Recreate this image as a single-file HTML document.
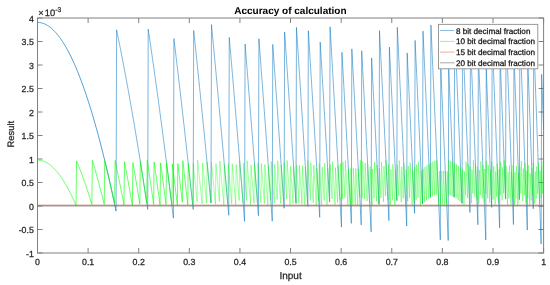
<!DOCTYPE html>
<html><head><meta charset="utf-8"><title>Accuracy of calculation</title>
<style>html,body{margin:0;padding:0;background:#fff;width:550px;height:285px;overflow:hidden}svg{display:block;text-rendering:geometricPrecision}</style>
</head><body><svg width="550" height="285" viewBox="0 0 550 285"><clipPath id="c"><rect x="37.5" y="18.0" width="506.1" height="235.0"/></clipPath><rect x="37.5" y="18.0" width="506.1" height="235.0" fill="none" stroke="#808080" stroke-width="1"/><path d="M37.50 253.0v-5M37.50 18.0v5M88.11 253.0v-5M88.11 18.0v5M138.72 253.0v-5M138.72 18.0v5M189.33 253.0v-5M189.33 18.0v5M239.94 253.0v-5M239.94 18.0v5M290.55 253.0v-5M290.55 18.0v5M341.16 253.0v-5M341.16 18.0v5M391.77 253.0v-5M391.77 18.0v5M442.38 253.0v-5M442.38 18.0v5M492.99 253.0v-5M492.99 18.0v5M543.60 253.0v-5M543.60 18.0v5M37.5 253.00h5M543.6 253.00h-5M37.5 229.50h5M543.6 229.50h-5M37.5 206.00h5M543.6 206.00h-5M37.5 182.50h5M543.6 182.50h-5M37.5 159.00h5M543.6 159.00h-5M37.5 135.50h5M543.6 135.50h-5M37.5 112.00h5M543.6 112.00h-5M37.5 88.50h5M543.6 88.50h-5M37.5 65.00h5M543.6 65.00h-5M37.5 41.50h5M543.6 41.50h-5M37.5 18.00h5M543.6 18.00h-5" stroke="#808080" stroke-width="1" fill="none"/><g clip-path="url(#c)"><polyline fill="none" stroke="#0072BD" stroke-width="0.7" points="37.50,22.41 37.99,22.41 38.49,22.44 38.98,22.47 39.48,22.53 39.97,22.59 40.47,22.68 40.96,22.77 41.45,22.88 41.95,23.01 42.44,23.15 42.94,23.31 43.43,23.48 43.93,23.67 44.42,23.87 44.91,24.09 45.41,24.32 45.90,24.57 46.40,24.83 46.89,25.10 47.38,25.39 47.88,25.70 48.37,26.02 48.87,26.36 49.36,26.71 49.86,27.08 50.35,27.46 50.84,27.85 51.34,28.26 51.83,28.69 52.33,29.13 52.82,29.59 53.32,30.06 53.81,30.54 54.30,31.04 54.80,31.56 55.29,32.09 55.79,32.63 56.28,33.19 56.78,33.77 57.27,34.36 57.76,34.96 58.26,35.58 58.75,36.22 59.25,36.87 59.74,37.53 60.23,38.21 60.73,38.91 61.22,39.62 61.72,40.34 62.21,41.08 62.71,41.83 63.20,42.60 63.69,43.39 64.19,44.19 64.68,45.00 65.18,45.83 65.67,46.67 66.17,47.53 66.66,48.41 67.15,49.30 67.65,50.20 68.14,51.12 68.64,52.05 69.13,53.00 69.63,53.96 70.12,54.94 70.61,55.93 71.11,56.94 71.60,57.96 72.10,59.00 72.59,60.06 73.09,61.12 73.58,62.21 74.07,63.30 74.57,64.42 75.06,65.54 75.56,66.69 76.05,67.84 76.54,69.02 77.04,70.20 77.53,71.40 78.03,72.62 78.52,73.85 79.02,75.10 79.51,76.36 80.00,77.64 80.50,78.93 80.99,80.24 81.49,81.56 81.98,82.89 82.48,84.24 82.97,85.61 83.46,86.99 83.96,88.39 84.45,89.80 84.95,91.22 85.44,92.66 85.94,94.12 86.43,95.59 86.92,97.08 87.42,98.58 87.91,100.09 88.41,101.62 88.90,103.16 89.40,104.72 89.89,106.30 90.38,107.89 90.88,109.49 91.37,111.11 91.87,112.75 92.36,114.40 92.85,116.06 93.35,117.74 93.84,119.43 94.34,121.14 94.83,122.86 95.33,124.60 95.82,126.36 96.31,128.12 96.81,129.91 97.30,131.70 97.80,133.52 98.29,135.35 98.79,137.19 99.28,139.05 99.77,140.92 100.27,142.80 100.76,144.71 101.26,146.62 101.75,148.56 102.25,150.50 102.74,152.46 103.23,154.44 103.73,156.43 104.22,158.44 104.72,160.46 105.21,162.49 105.70,164.54 106.20,166.61 106.69,168.69 107.19,170.79 107.68,172.90 108.18,175.02 108.67,177.16 109.16,179.32 109.66,181.48 110.15,183.67 110.65,185.87 111.14,188.08 111.64,190.31 112.13,192.55 112.62,194.81 113.12,197.09 113.61,199.38 114.11,201.68 114.60,204.00 115.10,206.33 115.59,208.68 116.08,211.04"/><polyline fill="none" stroke="#0072BD" stroke-width="0.52" points="116.08,211.04 116.58,29.82 117.07,32.21 117.57,34.62 118.06,37.04 118.56,39.48 119.05,41.93 119.54,44.40 120.04,46.88 120.53,49.37 121.03,51.89 121.52,54.41 122.01,56.95 122.51,59.51 123.00,62.08 123.50,64.66 123.99,67.26 124.49,69.88 124.98,72.50 125.47,75.15 125.97,77.81 126.46,80.48 126.96,83.17 127.45,85.87 127.95,88.59 128.44,91.32 128.93,94.07 129.43,96.83 129.92,99.61 130.42,102.40 130.91,105.21 131.41,108.03 131.90,110.87 132.39,113.72 132.89,116.59 133.38,119.47 133.88,122.36 134.37,125.27 134.86,128.20 135.36,131.14 135.85,134.09 136.35,137.06 136.84,140.05 137.34,143.04 137.83,146.06 138.32,149.09 138.82,152.13 139.31,155.19 139.81,158.26 140.30,161.35 140.80,164.45 141.29,167.57 141.78,170.70 142.28,173.85 142.77,177.01 143.27,180.18 143.76,183.37 144.26,186.58 144.75,189.80 145.24,193.03 145.74,196.28 146.23,199.55 146.73,202.83 147.22,206.12 147.72,209.43 148.21,29.16 148.70,32.50 149.20,35.85 149.69,39.22 150.19,42.60 150.68,46.00 151.17,49.41 151.67,52.84 152.16,56.28 152.66,59.73 153.15,63.20 153.65,66.69 154.14,70.19 154.63,73.70 155.13,77.23 155.62,80.78 156.12,84.34 156.61,87.91 157.11,91.50 157.60,95.10 158.09,98.72 158.59,102.35 159.08,106.00 159.58,109.66 160.07,113.34 160.57,117.03 161.06,120.73 161.55,124.45 162.05,128.19 162.54,131.94 163.04,135.70 163.53,139.48 164.03,143.27 164.52,147.08 165.01,150.91 165.51,154.74 166.00,158.60 166.50,162.46 166.99,166.34 167.48,170.24 167.98,174.15 168.47,178.08 168.97,182.02 169.46,185.97 169.96,189.94 170.45,193.93 170.94,197.92 171.44,201.94 171.93,205.97 172.43,210.01 172.92,214.07 173.42,218.14 173.91,38.63 174.40,42.73 174.90,46.85 175.39,50.98 175.89,55.12 176.38,59.28 176.88,63.46 177.37,67.65 177.86,71.85 178.36,76.07 178.85,80.30 179.35,84.55 179.84,88.81 180.33,93.08 180.83,97.38 181.32,101.68 181.82,106.00 182.31,110.34 182.81,114.68 183.30,119.05 183.79,123.43 184.29,127.82 184.78,132.23 185.28,136.65 185.77,141.09 186.27,145.54 186.76,150.00 187.25,154.48 187.75,158.98 188.24,163.49 188.74,168.01 189.23,172.55 189.73,177.10 190.22,181.67 190.71,186.25 191.21,190.85 191.70,195.46 192.20,200.09 192.69,204.73 193.19,209.38 193.68,30.46 194.17,35.14 194.67,39.84 195.16,44.55 195.66,49.28 196.15,54.02 196.64,58.78 197.14,63.55 197.63,68.33 198.13,73.13 198.62,77.95 199.12,82.78 199.61,87.62 200.10,92.48 200.60,97.35 201.09,102.24 201.59,107.14 202.08,112.05 202.58,116.98 203.07,121.93 203.56,126.89 204.06,131.86 204.55,136.85 205.05,141.85 205.54,146.87 206.04,151.90 206.53,156.94 207.02,162.00 207.52,167.08 208.01,172.17 208.51,177.27 209.00,182.39 209.49,187.52 209.99,192.67 210.48,197.83 210.98,203.01 211.47,24.60 211.97,29.81 212.46,35.03 212.95,40.26 213.45,45.51 213.94,50.77 214.44,56.05 214.93,61.34 215.43,66.64 215.92,71.96 216.41,77.30 216.91,82.64 217.40,88.01 217.90,93.38 218.39,98.78 218.89,104.18 219.38,109.60 219.87,115.04 220.37,120.49 220.86,125.95 221.36,131.43 221.85,136.92 222.35,142.43 222.84,147.95 223.33,153.48 223.83,159.03 224.32,164.60 224.82,170.17 225.31,175.77 225.80,181.37 226.30,187.00 226.79,192.63 227.29,198.28 227.78,203.94 228.28,209.62 228.77,215.32 229.26,37.43 229.76,43.15 230.25,48.89 230.75,54.64 231.24,60.40 231.74,66.18 232.23,71.97 232.72,77.78 233.22,83.60 233.71,89.44 234.21,95.29 234.70,101.15 235.20,107.03 235.69,112.92 236.18,118.83 236.68,124.75 237.17,130.69 237.67,136.64 238.16,142.60 238.65,148.58 239.15,154.57 239.64,160.58 240.14,166.60 240.63,172.63 241.13,178.68 241.62,184.75 242.11,190.82 242.61,196.92 243.10,203.02 243.60,209.14 244.09,215.28 244.59,221.43 245.08,44.00 245.57,50.17 246.07,56.37 246.56,62.57 247.06,68.79 247.55,75.03 248.05,81.27 248.54,87.54 249.03,93.81 249.53,100.10 250.02,106.41 250.52,112.73 251.01,119.06 251.51,125.41 252.00,131.77 252.49,138.15 252.99,144.54 253.48,150.94 253.98,157.36 254.47,163.79 254.96,170.24 255.46,176.70 255.95,183.17 256.45,189.66 256.94,196.16 257.44,202.68 257.93,209.21 258.42,215.76 258.92,38.72 259.41,45.29 259.91,51.88 260.40,58.48 260.90,65.10 261.39,71.73 261.88,78.37 262.38,85.03 262.87,91.70 263.37,98.39 263.86,105.09 264.36,111.80 264.85,118.53 265.34,125.27 265.84,132.03 266.33,138.80 266.83,145.58 267.32,152.38 267.82,159.19 268.31,166.02 268.80,172.86 269.30,179.71 269.79,186.58 270.29,193.47 270.78,200.36 271.27,207.27 271.77,214.20 272.26,221.13 272.76,44.49 273.25,51.46 273.75,58.44 274.24,65.43 274.73,72.44 275.23,79.47 275.72,86.50 276.22,93.55 276.71,100.62 277.21,107.69 277.70,114.79 278.19,121.89 278.69,129.01 279.18,136.15 279.68,143.29 280.17,150.46 280.67,157.63 281.16,164.82 281.65,172.02 282.15,179.24 282.64,186.47 283.14,193.72 283.63,200.98 284.12,208.25 284.62,31.94 285.11,39.24 285.61,46.56 286.10,53.89 286.60,61.23 287.09,68.59 287.58,75.96 288.08,83.34 288.57,90.74 289.07,98.15 289.56,105.58 290.06,113.01 290.55,120.47 291.04,127.94 291.54,135.42 292.03,142.91 292.53,150.42 293.02,157.94 293.52,165.48 294.01,173.03 294.50,180.59 295.00,188.17 295.49,195.76 295.99,203.37 296.48,27.39 296.98,35.02 297.47,42.67 297.96,50.33 298.46,58.01 298.95,65.69 299.45,73.40 299.94,81.11 300.43,88.84 300.93,96.58 301.42,104.34 301.92,112.11 302.41,119.89 302.91,127.69 303.40,135.50 303.89,143.33 304.39,151.17 304.88,159.02 305.38,166.89 305.87,174.77 306.37,182.66 306.86,190.57 307.35,198.49 307.85,206.43 308.34,30.78 308.84,38.74 309.33,46.72 309.83,54.71 310.32,62.71 310.81,70.73 311.31,78.76 311.80,86.80 312.30,94.86 312.79,102.93 313.28,111.02 313.78,119.12 314.27,127.23 314.77,135.36 315.26,143.50 315.76,151.65 316.25,159.82 316.74,168.00 317.24,176.19 317.73,184.40 318.23,192.62 318.72,200.86 319.22,209.10 319.71,217.37 320.20,42.05 320.70,50.34 321.19,58.64 321.69,66.96 322.18,75.29 322.68,83.63 323.17,91.99 323.66,100.36 324.16,108.74 324.65,117.14 325.15,125.55 325.64,133.98 326.14,142.41 326.63,150.86 327.12,159.33 327.62,167.81 328.11,176.30 328.61,184.81 329.10,193.33 329.59,201.86 330.09,26.81 330.58,35.37 331.08,43.94 331.57,52.53 332.07,61.13 332.56,69.74 333.05,78.37 333.55,87.01 334.04,95.66 334.54,104.33 335.03,113.01 335.53,121.71 336.02,130.41 336.51,139.14 337.01,147.87 337.50,156.62 338.00,165.38 338.49,174.15 338.99,182.94 339.48,191.74 339.97,200.56 340.47,209.38 340.96,218.23 341.46,227.08 341.95,52.36 342.45,61.24 342.94,70.13 343.43,79.04 343.93,87.96 344.42,96.90 344.92,105.84 345.41,114.81 345.90,123.78 346.40,132.77 346.89,141.77 347.39,150.79 347.88,159.81 348.38,168.85 348.87,177.91 349.36,186.98 349.86,196.06 350.35,205.15 350.85,214.26 351.34,223.38 351.84,48.92 352.33,58.07 352.82,67.23 353.32,76.40 353.81,85.59 354.31,94.79 354.80,104.01 355.30,113.23 355.79,122.47 356.28,131.73 356.78,140.99 357.27,150.27 357.77,159.56 358.26,168.87 358.75,178.19 359.25,187.52 359.74,196.87 360.24,206.23 360.73,215.60 361.23,224.98 361.72,50.79 362.21,60.20 362.71,69.62 363.20,79.06 363.70,88.51 364.19,97.98 364.69,107.45 365.18,116.94 365.67,126.45 366.17,135.96 366.66,145.49 367.16,155.04 367.65,164.59 368.15,174.16 368.64,183.74 369.13,193.34 369.63,202.95 370.12,212.57 370.62,222.20 371.11,231.85 371.61,57.91 372.10,67.59 372.59,77.27 373.09,86.97 373.58,96.68 374.08,106.41 374.57,116.15 375.06,125.90 375.56,135.66 376.05,145.44 376.55,155.23 377.04,165.03 377.54,174.85 378.03,184.68 378.52,194.52 379.02,204.38 379.51,30.65 380.01,40.53 380.50,50.43 381.00,60.33 381.49,70.25 381.98,80.19 382.48,90.13 382.97,100.09 383.47,110.06 383.96,120.05 384.46,130.04 384.95,140.05 385.44,150.08 385.94,160.11 386.43,170.16 386.93,180.22 387.42,190.30 387.91,200.39 388.41,210.49 388.90,220.60 389.40,47.13 389.89,57.27 390.39,67.42 390.88,77.59 391.37,87.76 391.87,97.95 392.36,108.16 392.86,118.37 393.35,128.60 393.85,138.84 394.34,149.10 394.83,159.36 395.33,169.64 395.82,179.94 396.32,190.24 396.81,200.56 397.31,27.30 397.80,37.64 398.29,48.00 398.79,58.36 399.28,68.75 399.78,79.14 400.27,89.55 400.77,99.97 401.26,110.40 401.75,120.84 402.25,131.30 402.74,141.77 403.24,152.26 403.73,162.75 404.22,173.26 404.72,183.78 405.21,194.32 405.71,204.86 406.20,215.42 406.70,225.99 407.19,52.98 407.68,63.58 408.18,74.19 408.67,84.81 409.17,95.45 409.66,106.09 410.16,116.75 410.65,127.43 411.14,138.11 411.64,148.81 412.13,159.52 412.63,170.24 413.12,180.98 413.62,191.73 414.11,202.49 414.60,213.26 415.10,40.45 415.59,51.25 416.09,62.06 416.58,72.89 417.08,83.72 417.57,94.57 418.06,105.43 418.56,116.30 419.05,127.19 419.55,138.09 420.04,149.00 420.53,159.92 421.03,170.86 421.52,181.80 422.02,192.77 422.51,203.74 423.01,31.13 423.50,42.13 423.99,53.14 424.49,64.16 424.98,75.20 425.48,86.24 425.97,97.30 426.47,108.37 426.96,119.46 427.45,130.56 427.95,141.67 428.44,152.79 428.94,163.92 429.43,175.07 429.93,186.23 430.42,197.40 430.91,24.99 431.41,36.18 431.90,47.39 432.40,58.61 432.89,69.85 433.38,81.09 433.88,92.35 434.37,103.62 434.87,114.90 435.36,126.19 435.86,137.50 436.35,148.82 436.84,160.15 437.34,171.49 437.83,182.85 438.33,194.22 438.82,205.60 439.32,216.99 439.81,228.39 440.30,239.81 440.80,67.64 441.29,79.09 441.79,90.54 442.28,102.00 442.78,113.48 443.27,124.97 443.76,136.47 444.26,147.99 444.75,159.51 445.25,171.05 445.74,182.60 446.24,194.17 446.73,205.74 447.22,217.33 447.72,228.93 448.21,240.54 448.71,68.57 449.20,80.20 449.69,91.85 450.19,103.51 450.68,115.18 451.18,126.86 451.67,138.56 452.17,150.27 452.66,161.99 453.15,173.72 453.65,185.46 454.14,197.22 454.64,25.39 455.13,37.17 455.63,48.97 456.12,60.77 456.61,72.59 457.11,84.41 457.60,96.25 458.10,108.11 458.59,119.97 459.09,131.85 459.58,143.73 460.07,155.63 460.57,167.54 461.06,179.47 461.56,191.40 462.05,203.35 462.54,31.72 463.04,43.69 463.53,55.67 464.03,67.67 464.52,79.67 465.02,91.69 465.51,103.72 466.00,115.77 466.50,127.82 466.99,139.89 467.49,151.97 467.98,164.06 468.48,176.16 468.97,188.27 469.46,200.40 469.96,212.53 470.45,41.09 470.95,53.25 471.44,65.42 471.94,77.61 472.43,89.80 472.92,102.01 473.42,114.23 473.91,126.46 474.41,138.71 474.90,150.96 475.40,163.23 475.89,175.51 476.38,187.80 476.88,200.10 477.37,212.41 477.87,224.74 478.36,53.48 478.85,65.83 479.35,78.19 479.84,90.57 480.34,102.95 480.83,115.34 481.33,127.75 481.82,140.17 482.31,152.60 482.81,165.04 483.30,177.50 483.80,189.96 484.29,202.44 484.79,214.93 485.28,227.43 485.77,239.94 486.27,68.87 486.76,81.40 487.26,93.95 487.75,106.51 488.25,119.08 488.74,131.66 489.23,144.25 489.73,156.86 490.22,169.47 490.72,182.10 491.21,194.74 491.70,207.39 492.20,36.46 492.69,49.13 493.19,61.82 493.68,74.51 494.18,87.22 494.67,99.94 495.16,112.67 495.66,125.41 496.15,138.17 496.65,150.93 497.14,163.71 497.64,176.50 498.13,189.29 498.62,202.11 499.12,214.93 499.61,227.76 500.11,57.01 500.60,69.87 501.10,82.74 501.59,95.61 502.08,108.51 502.58,121.41 503.07,134.32 503.57,147.24 504.06,160.18 504.56,173.13 505.05,186.09 505.54,199.05 506.04,28.44 506.53,41.43 507.03,54.44 507.52,67.45 508.01,80.48 508.51,93.52 509.00,106.56 509.50,119.62 509.99,132.70 510.49,145.78 510.98,158.87 511.47,171.98 511.97,185.09 512.46,198.22 512.96,211.36 513.45,224.51 513.95,54.07 514.44,67.25 514.93,80.43 515.43,93.62 515.92,106.83 516.42,120.05 516.91,133.27 517.41,146.51 517.90,159.76 518.39,173.02 518.89,186.29 519.38,199.58 519.88,29.28 520.37,42.58 520.87,55.90 521.36,69.23 521.85,82.57 522.35,95.92 522.84,109.28 523.34,122.65 523.83,136.03 524.32,149.43 524.82,162.83 525.31,176.25 525.81,189.67 526.30,203.11 526.80,216.56 527.29,230.02 527.78,59.90 528.28,73.38 528.77,86.87 529.27,100.37 529.76,113.89 530.26,127.41 530.75,140.95 531.24,154.50 531.74,168.06 532.23,181.63 532.73,195.21 533.22,208.80 533.72,38.80 534.21,52.42 534.70,66.04 535.20,79.67 535.69,93.32 536.19,106.98 536.68,120.64 537.17,134.32 537.67,148.01 538.16,161.71 538.66,175.42 539.15,189.14 539.65,202.87 540.14,216.61 540.63,230.37 541.13,244.13 541.62,74.31 542.12,88.10 542.61,101.90 543.11,115.70 543.60,129.52"/><polyline fill="none" stroke="#00FF00" stroke-width="0.6" points="37.50,160.10 37.99,160.11 38.49,160.13 38.98,160.17 39.48,160.22 39.97,160.29 40.47,160.37 40.96,160.47 41.45,160.58 41.95,160.71 42.44,160.85 42.94,161.01 43.43,161.18 43.93,161.36 44.42,161.57 44.91,161.78 45.41,162.01 45.90,162.26 46.40,162.52 46.89,162.80 47.38,163.09 47.88,163.40 48.37,163.72 48.87,164.05 49.36,164.40 49.86,164.77 50.35,165.15 50.84,165.55 51.34,165.96 51.83,166.38 52.33,166.82 52.82,167.28 53.32,167.75 53.81,168.24 54.30,168.74 54.80,169.25 55.29,169.78 55.79,170.33 56.28,170.89 56.78,171.46 57.27,172.05 57.76,172.66 58.26,173.28 58.75,173.91 59.25,174.56 59.74,175.23 60.23,175.91 60.73,176.60 61.22,177.31 61.72,178.04 62.21,178.78 62.71,179.53 63.20,180.30 63.69,181.08 64.19,181.88 64.68,182.70 65.18,183.53 65.67,184.37 66.17,185.23 66.66,186.10 67.15,186.99 67.65,187.89 68.14,188.81 68.64,189.75 69.13,190.69 69.63,191.66 70.12,192.64 70.61,193.63 71.11,194.64 71.60,195.66 72.10,196.70 72.59,197.75 73.09,198.82 73.58,199.90 74.07,201.00 74.57,202.11 75.06,203.24 75.56,204.38 76.05,205.54 76.54,160.81 77.04,162.00 77.53,163.20 78.03,164.42 78.52,165.65 79.02,166.90 79.51,168.16 80.00,169.44 80.50,170.73 80.99,172.03 81.49,173.35 81.98,174.69 82.48,176.04 82.97,177.41 83.46,178.79 83.96,180.18 84.45,181.59 84.95,183.02 85.44,184.46 85.94,185.92 86.43,187.39 86.92,188.87 87.42,190.37 87.91,191.89 88.41,193.42 88.90,194.96 89.40,196.52 89.89,198.10 90.38,199.69 90.88,201.29 91.37,202.91 91.87,204.54 92.36,160.29 92.85,161.96 93.35,163.64 93.84,165.33 94.34,167.04 94.83,168.76 95.33,170.50 95.82,172.25 96.31,174.02 96.81,175.81 97.30,177.60 97.80,179.42 98.29,181.24 98.79,183.09 99.28,184.94 99.77,186.82 100.27,188.70 100.76,190.60 101.26,192.52 101.75,194.45 102.25,196.40 102.74,198.36 103.23,200.34 103.73,202.33 104.22,204.34 104.72,160.46 105.21,162.49 105.70,164.54 106.20,166.61 106.69,168.69 107.19,170.79 107.68,172.90 108.18,175.02 108.67,177.16 109.16,179.32 109.66,181.48 110.15,183.67 110.65,185.87 111.14,188.08 111.64,190.31 112.13,192.55 112.62,194.81 113.12,197.09 113.61,199.38 114.11,201.68 114.60,204.00 115.10,160.43 115.59,162.78 116.08,165.14 116.58,167.52 117.07,169.91 117.57,172.32 118.06,174.74 118.56,177.18 119.05,179.63 119.54,182.09 120.04,184.57 120.53,187.07 121.03,189.58 121.52,192.11 122.01,194.65 122.51,197.20 123.00,199.77 123.50,202.36 123.99,204.96 124.49,161.67 124.98,164.30 125.47,166.95 125.97,169.60 126.46,172.28 126.96,174.97 127.45,177.67 127.95,180.39 128.44,183.12 128.93,185.87 129.43,188.63 129.92,191.41 130.42,194.20 130.91,197.01 131.41,199.83 131.90,202.67 132.39,205.52 132.89,162.48 133.38,165.36 133.88,168.26 134.37,171.17 134.86,174.10 135.36,177.04 135.85,179.99 136.35,182.96 136.84,185.94 137.34,188.94 137.83,191.96 138.32,194.98 138.82,198.03 139.31,201.09 139.81,204.16 140.30,161.35 140.80,164.45 141.29,167.57 141.78,170.70 142.28,173.85 142.77,177.01 143.27,180.18 143.76,183.37 144.26,186.58 144.75,189.80 145.24,193.03 145.74,196.28 146.23,199.55 146.73,202.83 147.22,160.22 147.72,163.53 148.21,166.86 148.70,170.19 149.20,173.55 149.69,176.91 150.19,180.30 150.68,183.69 151.17,187.11 151.67,190.53 152.16,193.97 152.66,197.43 153.15,200.90 153.65,204.38 154.14,161.99 154.63,165.50 155.13,169.03 155.62,172.57 156.12,176.13 156.61,179.71 157.11,183.29 157.60,186.90 158.09,190.52 158.59,194.15 159.08,197.79 159.58,201.46 160.07,205.13 160.57,162.93 161.06,166.63 161.55,170.35 162.05,174.09 162.54,177.84 163.04,181.60 163.53,185.38 164.03,189.17 164.52,192.98 165.01,196.80 165.51,200.64 166.00,204.49 166.50,162.46 166.99,166.34 167.48,170.24 167.98,174.15 168.47,178.08 168.97,182.02 169.46,185.97 169.96,189.94 170.45,193.93 170.94,197.92 171.44,201.94 171.93,205.97 172.43,164.11 172.92,168.17 173.42,172.24 173.91,176.33 174.40,180.43 174.90,184.54 175.39,188.67 175.89,192.82 176.38,196.98 176.88,201.15 177.37,205.34 177.86,163.65 178.36,167.86 178.85,172.10 179.35,176.34 179.84,180.60 180.33,184.88 180.83,189.17 181.32,193.48 181.82,197.80 182.31,202.13 182.81,160.58 183.30,164.95 183.79,169.33 184.29,173.72 184.78,178.13 185.28,182.55 185.77,186.98 186.27,191.44 186.76,195.90 187.25,200.38 187.75,204.88 188.24,163.49 188.74,168.01 189.23,172.55"/><polyline fill="none" stroke="#00FF00" stroke-width="0.37" points="189.23,172.55 189.73,177.10 190.22,181.67 190.71,186.25 191.21,190.85 191.70,195.46 192.20,200.09 192.69,204.73 193.19,163.48 193.68,168.15 194.17,172.84 194.67,177.53 195.16,182.25 195.66,186.97 196.15,191.72 196.64,196.47 197.14,201.24 197.63,160.13 198.13,164.93 198.62,169.74 199.12,174.57 199.61,179.42 200.10,184.27 200.60,189.15 201.09,194.03 201.59,198.93 202.08,203.85 202.58,162.88 203.07,167.83 203.56,172.78 204.06,177.76 204.55,182.75 205.05,187.75 205.54,192.77 206.04,197.80 206.53,202.84 207.02,162.00 207.52,167.08 208.01,172.17 208.51,177.27 209.00,182.39 209.49,187.52 209.99,192.67 210.48,197.83 210.98,203.01 211.47,162.30 211.97,167.50 212.46,172.72 212.95,177.95 213.45,183.20 213.94,188.46 214.44,193.74 214.93,199.03 215.43,204.34 215.92,163.76 216.41,169.09 216.91,174.44 217.40,179.80 217.90,185.18 218.39,190.57 218.89,195.98 219.38,201.40 219.87,160.94 220.37,166.38 220.86,171.85 221.36,177.33 221.85,182.82 222.35,188.33 222.84,193.85 223.33,199.38 223.83,204.93 224.32,164.60 224.82,170.17 225.31,175.77 225.80,181.37 226.30,187.00 226.79,192.63 227.29,198.28 227.78,203.94 228.28,163.72 228.77,169.42 229.26,175.12 229.76,180.85 230.25,186.58 230.75,192.33 231.24,198.10 231.74,203.87 232.23,163.77 232.72,169.58 233.22,175.40 233.71,181.23 234.21,187.08 234.70,192.95 235.20,198.83 235.69,204.72 236.18,164.73 236.68,170.65 237.17,176.58 237.67,182.53 238.16,188.50 238.65,194.48 239.15,200.47 239.64,160.58 240.14,166.60 240.63,172.63 241.13,178.68 241.62,184.75 242.11,190.82 242.61,196.92 243.10,203.02 243.60,163.25 244.09,169.38 244.59,175.53 245.08,181.69 245.57,187.87 246.07,194.06 246.56,200.27 247.06,160.59 247.55,166.82 248.05,173.07 248.54,179.33 249.03,185.61 249.53,191.90 250.02,198.21 250.52,204.52 251.01,164.96 251.51,171.31 252.00,177.67 252.49,184.04 252.99,190.43 253.48,196.84 253.98,203.26 254.47,163.79 254.96,170.24 255.46,176.70 255.95,183.17 256.45,189.66 256.94,196.16 257.44,202.68 257.93,163.31 258.42,169.86 258.92,176.42 259.41,182.99 259.91,189.58 260.40,196.18 260.90,202.79 261.39,163.53 261.88,170.17 262.38,176.83 262.87,183.50 263.37,190.18 263.86,196.88 264.36,203.60 264.85,164.43 265.34,171.17 265.84,177.93 266.33,184.70 266.83,191.48 267.32,198.28 267.82,205.09 268.31,166.02 268.80,172.86 269.30,179.71 269.79,186.58 270.29,193.47 270.78,200.36 271.27,161.37 271.77,168.30 272.26,175.24 272.76,182.19 273.25,189.16 273.75,196.14 274.24,203.13 274.73,164.24 275.23,171.26 275.72,178.30 276.22,185.35 276.71,192.41 277.21,199.49 277.70,160.68 278.19,167.79 278.69,174.91 279.18,182.04 279.68,189.19 280.17,196.35 280.67,203.53 281.16,164.82 281.65,172.02 282.15,179.24 282.64,186.47 283.14,193.72 283.63,200.98 284.12,162.35 284.62,169.64 285.11,176.94 285.61,184.25 286.10,191.58 286.60,198.93 287.09,160.38 287.58,167.75 288.08,175.14 288.57,182.53 289.07,189.95 289.56,197.37 290.06,204.81 290.55,166.37 291.04,173.83 291.54,181.31 292.03,188.81 292.53,196.32 293.02,203.84 293.52,165.48 294.01,173.03 294.50,180.59 295.00,188.17 295.49,195.76 295.99,203.37 296.48,165.09 296.98,172.72 297.47,180.37 297.96,188.03 298.46,195.70 298.95,203.39 299.45,165.19 299.94,172.91 300.43,180.64 300.93,188.38 301.42,196.14 301.92,203.91 302.41,165.79 302.91,173.59 303.40,181.40 303.89,189.23 304.39,197.07 304.88,204.92 305.38,166.89 305.87,174.77 306.37,182.66 306.86,190.57 307.35,198.49 307.85,160.53 308.34,168.48 308.84,176.44 309.33,184.41 309.83,192.40 310.32,200.41 310.81,162.53 311.31,170.56 311.80,178.60 312.30,186.66 312.79,194.73 313.28,202.82 313.78,165.02 314.27,173.13 314.77,181.25 315.26,189.39 315.76,197.55 316.25,205.71 316.74,168.00 317.24,176.19 317.73,184.40 318.23,192.62 318.72,200.86 319.22,163.21 319.71,171.47 320.20,179.74 320.70,188.03 321.19,196.34 321.69,204.65 322.18,167.08 322.68,175.43 323.17,183.78 323.66,192.15 324.16,200.54 324.65,163.04 325.15,171.45 325.64,179.87 326.14,188.31 326.63,196.76 327.12,205.23 327.62,167.81 328.11,176.30 328.61,184.81 329.10,193.33 329.59,201.86 330.09,164.51 330.58,173.07 331.08,181.64 331.57,190.23 332.07,198.83 332.56,161.54 333.05,170.17 333.55,178.81 334.04,187.46 334.54,196.13 335.03,204.81 335.53,167.61 336.02,176.31 336.51,185.03 337.01,193.77 337.50,202.52 338.00,165.38 338.49,174.15 338.99,182.94 339.48,191.74 339.97,200.56 340.47,163.49 340.96,172.33 341.46,181.18 341.95,190.05 342.45,198.93 342.94,161.93 343.43,170.84 343.93,179.76 344.42,188.69 344.92,197.64 345.41,160.70 345.90,169.68 346.40,178.67 346.89,187.67 347.39,196.68 347.88,205.71 348.38,168.85 348.87,177.91 349.36,186.98 349.86,196.06 350.35,205.15 350.85,168.36 351.34,177.48 351.84,186.62 352.33,195.76 352.82,204.93 353.32,168.20 353.81,177.39 354.31,186.59 354.80,195.80 355.30,205.03 355.79,168.37 356.28,177.62 356.78,186.89 357.27,196.17 357.77,205.46 358.26,168.87 358.75,178.19 359.25,187.52 359.74,196.87 360.24,160.33 360.73,169.70 361.23,179.09 361.72,188.48 362.21,197.90 362.71,161.42 363.20,170.86 363.70,180.31 364.19,189.77 364.69,199.25 365.18,162.84 365.67,172.35 366.17,181.86 366.66,191.39 367.16,200.93 367.65,164.59 368.15,174.16 368.64,183.74 369.13,193.34 369.63,202.95 370.12,166.67 370.62,176.30 371.11,185.95 371.61,195.61 372.10,205.28 372.59,169.07 373.09,178.77 373.58,188.48 374.08,198.21 374.57,162.05 375.06,171.80 375.56,181.56 376.05,191.34 376.55,201.13 377.04,165.03 377.54,174.85 378.03,184.68 378.52,194.52 379.02,204.38 379.51,168.35 380.01,178.23 380.50,188.12 381.00,198.03 381.49,162.05 381.98,171.98 382.48,181.93 382.97,191.89 383.47,201.86 383.96,165.95 384.46,175.94 384.95,185.95 385.44,195.98 385.94,160.11 386.43,170.16 386.93,180.22 387.42,190.30 387.91,200.39 388.41,164.59 388.90,174.70 389.40,184.83 389.89,194.97 390.39,205.12 390.88,169.38 391.37,179.56 391.87,189.75 392.36,199.95 392.86,164.27 393.35,174.50 393.85,184.74 394.34,195.00 394.83,205.26 395.33,169.64 395.82,179.94 396.32,190.24 396.81,200.56 397.31,164.99 397.80,175.33 398.29,185.69 398.79,196.06 399.28,160.54 399.78,170.94 400.27,181.34 400.77,191.76 401.26,202.20 401.75,166.74 402.25,177.20 402.74,187.67 403.24,198.15 403.73,162.75 404.22,173.26 404.72,183.78 405.21,194.32 405.71,204.86 406.20,169.52 406.70,180.09 407.19,190.68 407.68,201.28 408.18,165.99 408.67,176.61 409.17,187.24 409.66,197.89 410.16,162.65 410.65,173.33 411.14,184.01 411.64,194.71 412.13,205.42 412.63,170.24 413.12,180.98 413.62,191.73 414.11,202.49 414.60,167.36 415.10,178.15 415.59,188.95 416.09,199.76 416.58,164.68 417.08,175.52 417.57,186.37 418.06,197.23 418.56,162.20 419.05,173.09 419.55,183.99 420.04,194.90 420.53,205.82 421.03,170.86 421.52,181.80 422.02,192.77 422.51,203.74 423.01,168.82 423.50,179.82 423.99,190.83 424.49,201.86 424.98,166.99 425.48,178.04 425.97,189.10 426.47,200.17 426.96,165.36 427.45,176.45 427.95,187.56 428.44,198.69 428.94,163.92 429.43,175.07 429.93,186.23 430.42,197.40 430.91,162.68 431.41,173.88 431.90,185.09 432.40,196.31 432.89,161.64 433.38,172.89 433.88,184.14 434.37,195.41 434.87,160.80 435.36,172.09 435.86,183.40 436.35,194.72 436.84,160.15 437.34,171.49 437.83,182.85 438.33,194.22 438.82,205.60 439.32,171.09 439.81,182.49 440.30,193.91 440.80,205.34 441.29,170.88 441.79,182.34 442.28,193.80 442.78,205.28 443.27,170.87 443.76,182.37 444.26,193.89 444.75,205.41 445.25,171.05 445.74,182.60 446.24,194.17 446.73,205.74 447.22,171.43 447.72,183.03 448.21,194.64 448.71,160.36 449.20,172.00 449.69,183.65 450.19,195.31 450.68,161.08 451.18,172.76 451.67,184.46 452.17,196.17 452.66,161.99 453.15,173.72 453.65,185.46 454.14,197.22 454.64,163.09 455.13,174.87 455.63,186.66 456.12,198.46 456.61,164.38 457.11,176.21 457.60,188.05 458.10,199.90 458.59,165.87 459.09,177.74 459.58,189.63 460.07,201.53 460.57,167.54 461.06,179.47 461.56,191.40 462.05,203.35 462.54,169.41 463.04,181.38 463.53,193.37 464.03,205.36 464.52,171.47 465.02,183.49 465.51,195.52 466.00,161.67 466.50,173.72 466.99,185.79 467.49,197.86 467.98,164.06 468.48,176.16 468.97,188.27 469.46,200.40 469.96,166.64 470.45,178.79 470.95,190.95 471.44,203.12 471.94,169.41 472.43,181.60 472.92,193.81 473.42,160.13 473.91,172.36 474.41,184.61 474.90,196.86 475.40,163.23 475.89,175.51 476.38,187.80 476.88,200.10 477.37,166.52 477.87,178.84 478.36,191.18 478.85,203.53 479.35,169.99 479.84,182.36 480.34,194.75 480.83,161.24 481.33,173.65 481.82,186.07 482.31,198.50 482.81,165.04 483.30,177.50 483.80,189.96 484.29,202.44 484.79,169.03 485.28,181.53 485.77,194.04 486.27,160.67 486.76,173.20 487.26,185.75 487.75,198.31 488.25,164.98 488.74,177.56 489.23,190.15 489.73,202.76 490.22,169.47 490.72,182.10 491.21,194.74 491.70,161.49 492.20,174.15 492.69,186.83 493.19,199.51 493.68,166.31 494.18,179.02 494.67,191.74 495.16,204.47 495.66,171.31 496.15,184.06 496.65,196.83 497.14,163.71 497.64,176.50 498.13,189.29 498.62,202.11 499.12,169.03 499.61,181.86 500.11,194.71 500.60,161.66 501.10,174.53 501.59,187.41 502.08,200.30 502.58,167.31 503.07,180.22 503.57,193.14 504.06,160.18 504.56,173.13 505.05,186.09 505.54,199.05 506.04,166.14 506.53,179.13 507.03,192.13 507.52,205.15 508.01,172.28 508.51,185.31 509.00,198.36 509.50,165.52 509.99,178.59 510.49,191.68 510.98,204.77 511.47,171.98 511.97,185.09 512.46,198.22 512.96,165.46 513.45,178.61 513.95,191.77 514.44,204.94 514.93,172.23 515.43,185.42 515.92,198.63 516.42,165.94 516.91,179.17 517.41,192.41 517.90,205.66 518.39,173.02 518.89,186.29 519.38,199.58 519.88,166.97 520.37,180.28 520.87,193.60 521.36,161.02 521.85,174.36 522.35,187.71 522.84,201.07 523.34,168.55 523.83,181.93 524.32,195.32 524.82,162.83 525.31,176.25 525.81,189.67 526.30,203.11 526.80,170.66 527.29,184.12 527.78,197.59 528.28,165.17 528.77,178.67 529.27,192.17 529.76,205.69 530.26,173.31 530.75,186.85 531.24,200.40 531.74,168.06 532.23,181.63 532.73,195.21 533.22,162.90 533.72,176.50 534.21,190.11 534.70,203.74 535.20,171.47 535.69,185.12 536.19,198.77 536.68,166.54 537.17,180.22 537.67,193.91 538.16,161.71 538.66,175.42 539.15,189.14 539.65,202.87 540.14,170.72 540.63,184.47 541.13,198.23 541.62,166.11 542.12,179.90 542.61,193.69 543.11,161.60 543.60,175.42"/><line x1="37.5" x2="543.6" y1="206.00" y2="206.00" stroke="#404040" stroke-width="0.5"/><line x1="37.5" x2="543.6" y1="205.28" y2="205.28" stroke="#cc6c4c" stroke-width="1.05"/></g><g font-family='"Liberation Sans", Arial, Helvetica, sans-serif' font-size="8.8" fill="#262626" stroke="#262626" stroke-width="0.25"><text x="37.50" y="265.4" text-anchor="middle">0</text><text x="88.11" y="265.4" text-anchor="middle">0.1</text><text x="138.72" y="265.4" text-anchor="middle">0.2</text><text x="189.33" y="265.4" text-anchor="middle">0.3</text><text x="239.94" y="265.4" text-anchor="middle">0.4</text><text x="290.55" y="265.4" text-anchor="middle">0.5</text><text x="341.16" y="265.4" text-anchor="middle">0.6</text><text x="391.77" y="265.4" text-anchor="middle">0.7</text><text x="442.38" y="265.4" text-anchor="middle">0.8</text><text x="492.99" y="265.4" text-anchor="middle">0.9</text><text x="543.60" y="265.4" text-anchor="middle">1</text><text x="33.8" y="256.50" text-anchor="end">-1</text><text x="33.8" y="233.00" text-anchor="end">-0.5</text><text x="33.8" y="209.50" text-anchor="end">0</text><text x="33.8" y="186.00" text-anchor="end">0.5</text><text x="33.8" y="162.50" text-anchor="end">1</text><text x="33.8" y="139.00" text-anchor="end">1.5</text><text x="33.8" y="115.50" text-anchor="end">2</text><text x="33.8" y="92.00" text-anchor="end">2.5</text><text x="33.8" y="68.50" text-anchor="end">3</text><text x="33.8" y="45.00" text-anchor="end">3.5</text><text x="33.8" y="21.50" text-anchor="end">4</text></g><g font-family='"Liberation Sans", Arial, Helvetica, sans-serif' fill="#262626" stroke="#262626" stroke-width="0.25"><text x="38.3" y="16.2" font-size="9.3">×</text><text x="44.8" y="15.9" font-size="9.3">10</text><text x="55.2" y="11.6" font-size="6.8">-3</text></g><text x="290.4" y="13.6" text-anchor="middle" font-family='"Liberation Sans", Arial, Helvetica, sans-serif' font-weight="bold" font-size="10" fill="#000">Accuracy of calculation</text><text x="290.6" y="278.9" text-anchor="middle" font-family='"Liberation Sans", Arial, Helvetica, sans-serif' font-size="10" fill="#262626" stroke="#262626" stroke-width="0.25">Input</text><text transform="translate(13.6 134.2) rotate(-90)" text-anchor="middle" font-family='"Liberation Sans", Arial, Helvetica, sans-serif' font-size="9.4" fill="#262626" stroke="#262626" stroke-width="0.25">Result</text><rect x="438.5" y="24.4" width="99.29999999999995" height="44.4" fill="#fff" stroke="#999" stroke-width="1"/><line x1="440" x2="454.5" y1="30.5" y2="30.5" stroke="#8cbde1" stroke-width="1"/><text x="455.9" y="33.50" font-family='"Liberation Sans", Arial, Helvetica, sans-serif' font-size="8.15" fill="#000" stroke="#262626" stroke-width="0.25">8 bit decimal fraction</text><line x1="440" x2="454.5" y1="41.4" y2="41.4" stroke="#8cff8c" stroke-width="1"/><text x="455.9" y="44.40" font-family='"Liberation Sans", Arial, Helvetica, sans-serif' font-size="8.15" fill="#000" stroke="#262626" stroke-width="0.25">10 bit decimal fraction</text><line x1="440" x2="454.5" y1="52.1" y2="52.1" stroke="#eeb197" stroke-width="1"/><text x="455.9" y="55.10" font-family='"Liberation Sans", Arial, Helvetica, sans-serif' font-size="8.15" fill="#000" stroke="#262626" stroke-width="0.25">15 bit decimal fraction</text><line x1="440" x2="454.5" y1="62.8" y2="62.8" stroke="#a9a9a9" stroke-width="1"/><text x="455.9" y="65.80" font-family='"Liberation Sans", Arial, Helvetica, sans-serif' font-size="8.15" fill="#000" stroke="#262626" stroke-width="0.25">20 bit decimal fraction</text></svg></body></html>
